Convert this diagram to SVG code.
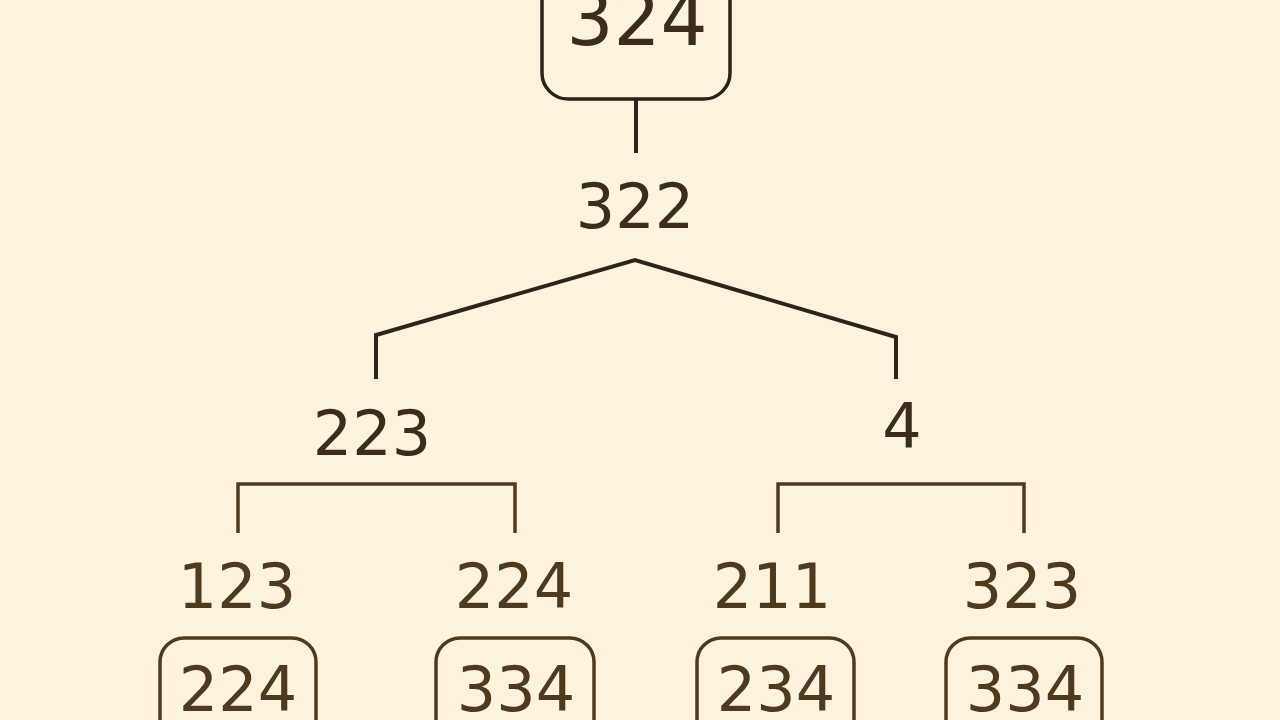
<svg xmlns="http://www.w3.org/2000/svg" width="1280" height="720" viewBox="0 0 1280 720">
<style>
.bg{fill:#fdf2dd}
.t{font-family:"DejaVu Sans","Liberation Sans",sans-serif;font-size:62px;text-anchor:middle;fill:#3a2d1b}
.tb{fill:#4e3a1e}
.box{fill:none;stroke:#2d2318;stroke-width:3.5}
.boxb{fill:none;stroke:#4e3a1e;stroke-width:3.5}
.ln{fill:none;stroke:#2d2318;stroke-width:4;stroke-linejoin:miter}
.lnb{fill:none;stroke:#4e3a1e;stroke-width:3.5}
</style>
<rect class="bg" x="0" y="0" width="1280" height="720"/>
<g id="connectors">
<line class="ln" x1="636" y1="99" x2="636" y2="153"/>
<polyline class="ln" points="376,379 376,335 635,260 896,337 896,379"/>
<polyline class="lnb" points="238,533 238,484 515,484 515,533"/>
<polyline class="lnb" points="778,533 778,484 1024,484 1024,533"/>
</g>
<g id="n324"><rect class="box" x="542" y="-40" width="188" height="139" rx="26"/><text class="t" x="637" y="45" style="font-size:74px" fill="#2d2318">324</text></g>
<g id="n322"><text class="t" x="635" y="228">322</text></g>
<g id="n223"><text class="t" x="372" y="455">223</text></g>
<g id="n4"><text class="t" x="902" y="448">4</text></g>
<g id="n123"><text class="t tb" x="237" y="608">123</text></g>
<g id="n224"><text class="t tb" x="514" y="608">224</text></g>
<g id="n211"><text class="t tb" x="772" y="608">211</text></g>
<g id="n323"><text class="t tb" x="1022" y="608">323</text></g>
<g id="b224"><rect class="boxb" x="160" y="638" width="156" height="120" rx="24"/><text class="t tb" x="238" y="711">224</text></g>
<g id="b334a"><rect class="boxb" x="436" y="638" width="158" height="120" rx="24"/><text class="t tb" x="516" y="711">334</text></g>
<g id="b234"><rect class="boxb" x="697" y="638" width="157" height="120" rx="24"/><text class="t tb" x="776" y="711">234</text></g>
<g id="b334b"><rect class="boxb" x="946" y="638" width="156" height="120" rx="24"/><text class="t tb" x="1025" y="711">334</text></g>
</svg>
